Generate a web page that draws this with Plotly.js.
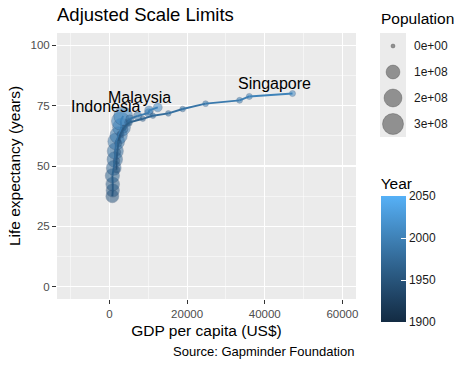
<!DOCTYPE html>
<html>
<head>
<meta charset="utf-8">
<script src="https://cdn.plot.ly/plotly-3.0.1.min.js"></script>
<style>html,body{margin:0;padding:0;background:#fff;}#chart{width:474px;height:366px;}</style>
</head>
<body>
<div id="chart"></div>
<script>
// ---- Data (Gapminder, 1952-2007) ----
const countries = ["Indonesia", "Malaysia", "Singapore"];
const years = [1952, 1957, 1962, 1967, 1972, 1977, 1982, 1987, 1992, 1997, 2002, 2007];
const gdpIndonesia = [749.68, 858.90, 849.29, 762.43, 1111.11, 1382.70, 1516.87, 1748.36, 2383.14, 3119.34, 2873.91, 3540.65];
const lifeIndonesia = [37.468, 39.918, 42.518, 45.964, 49.203, 52.702, 56.159, 60.137, 62.681, 66.041, 68.588, 70.65];
const popIndonesia = [82052000, 90124000, 99028000, 109343000, 121282000, 136725000, 153343000, 169276000, 184816000, 199278000, 211060000, 223547000];
const gdpMalaysia = [1831.13, 1810.07, 2036.88, 2277.74, 2849.09, 3827.92, 4920.36, 5249.80, 7277.91, 10132.91, 10206.98, 12451.66];
const lifeMalaysia = [48.463, 52.102, 55.737, 59.371, 63.01, 65.256, 68.0, 69.5, 70.693, 71.938, 73.044, 74.241];
const popMalaysia = [6748378, 7739235, 8906385, 10154878, 11441462, 12845381, 14441916, 16331785, 18319502, 20476091, 22662365, 24821286];
const gdpSingapore = [2315.14, 2843.10, 3674.74, 4977.42, 8597.76, 11210.09, 15169.16, 18861.53, 24769.89, 33519.48, 36023.11, 47143.18];
const lifeSingapore = [60.396, 63.179, 65.798, 67.946, 69.521, 70.795, 71.76, 73.56, 75.788, 77.158, 78.77, 79.972];
const popSingapore = [1127000, 1445929, 1750200, 1977600, 2152400, 2325300, 2651869, 2794552, 3235865, 3802309, 4197776, 4553009];

const sizeBreaks = [0, 1e8, 2e8, 3e8];
const sizeLabels = ["0e+00", "1e+08", "2e+08", "3e+08"];
const yearLimits = [1900, 2050];
const yearTicks = [1900, 1950, 2000, 2050];
const popLimits = [0, 3e8];
const xTickVals = [0, 20000, 40000, 60000];
const yTickVals = [0, 25, 50, 75, 100];

const gdp = [gdpIndonesia, gdpMalaysia, gdpSingapore];
const life = [lifeIndonesia, lifeMalaysia, lifeSingapore];
const pop = [popIndonesia, popMalaysia, popSingapore];

// ---- ggplot-like Lab gradient #132B43 -> #56B1F7 ----
function hex2rgb(h){return [1,3,5].map(i=>parseInt(h.substr(i,2),16));}
function srgb2lin(c){c/=255;return c<=0.04045?c/12.92:Math.pow((c+0.055)/1.055,2.4);}
function lin2srgb(c){c=c<=0.0031308?12.92*c:1.055*Math.pow(c,1/2.4)-0.055;return Math.max(0,Math.min(255,Math.round(c*255)));}
function rgb2lab(rgb){const [r,g,b]=rgb.map(srgb2lin);
  let X=(0.4124*r+0.3576*g+0.1805*b)/0.95047,Y=(0.2126*r+0.7152*g+0.0722*b),Z=(0.0193*r+0.1192*g+0.9505*b)/1.08883;
  const f=t=>t>0.008856?Math.cbrt(t):7.787*t+16/116;
  return [116*f(Y)-16,500*(f(X)-f(Y)),200*(f(Y)-f(Z))];}
function lab2rgb(lab){const fy=(lab[0]+16)/116,fx=fy+lab[1]/500,fz=fy-lab[2]/200;
  const fi=t=>t*t*t>0.008856?t*t*t:(t-16/116)/7.787;
  const X=fi(fx)*0.95047,Y=fi(fy),Z=fi(fz)*1.08883;
  const r=3.2406*X-1.5372*Y-0.4986*Z,g=-0.9689*X+1.8758*Y+0.0415*Z,b=0.0557*X-0.2040*Y+1.0570*Z;
  return [lin2srgb(r),lin2srgb(g),lin2srgb(b)];}
const labLo=rgb2lab(hex2rgb("#132B43")), labHi=rgb2lab(hex2rgb("#56B1F7"));
function colorFrac(t){const l=labLo.map((v,i)=>v+(labHi[i]-v)*t);const c=lab2rgb(l);return "rgb("+c.join(",")+")";}
function colorYear(y){return colorFrac((y-yearLimits[0])/(yearLimits[1]-yearLimits[0]));}
const colorscale=[];for(let i=0;i<=10;i++){colorscale.push([i/10,colorFrac(i/10)]);}

function sizeOf(p){return 4+17*Math.sqrt(Math.max(0,p-popLimits[0])/(popLimits[1]-popLimits[0]));}

const F="Liberation Sans, Arial, sans-serif";
const traces=[];
// points
countries.forEach((c,k)=>{
  traces.push({type:"scatter",mode:"markers",x:gdp[k],y:life[k],name:c,showlegend:false,hoverinfo:"skip",
    marker:{size:pop[k].map(sizeOf),color:years,colorscale:colorscale,cmin:yearLimits[0],cmax:yearLimits[1],
      opacity:0.55,line:{width:0.8,color:"rgba(45,70,105,0.6)"},
      showscale:k===0,
      colorbar: k===0 ? {x:0.7763,xanchor:"left",y:0.1917,yanchor:"middle",thickness:25,thicknessmode:"pixels",
        len:148,lenmode:"pixels",outlinewidth:0,xpad:0,ypad:0,
        tickvals:yearTicks,ticks:"inside",ticklen:5,tickcolor:"white",tickwidth:1,
        tickfont:{family:F,size:12,color:"#1A1A1A"},
        title:{text:"Year",side:"top",font:{family:F,size:15.5,color:"#000"}}} : undefined}
  });
});
// path segments coloured by starting year
countries.forEach((c,k)=>{
  for(let i=0;i<years.length-1;i++){
    traces.push({type:"scatter",mode:"lines",x:[gdp[k][i],gdp[k][i+1]],y:[life[k][i],life[k][i+1]],
      showlegend:false,hoverinfo:"skip",line:{color:colorYear(years[i]),width:1.9}});
  }
});
// size legend keys
traces.push({type:"scatter",mode:"markers",xaxis:"x2",yaxis:"y2",x:sizeBreaks.map(()=>0),y:sizeBreaks.map((v,i)=>i),
  showlegend:false,hoverinfo:"skip",
  marker:{size:sizeBreaks.map(sizeOf),color:"rgba(0,0,0,0.55)",line:{width:1,color:"rgba(0,0,0,0.35)"}}});

const annotations=[];
countries.forEach((c,k)=>{
  const n=gdp[k].length-1;
  annotations.push({x:gdp[k][n],y:life[k][n],xref:"x",yref:"y",text:c,showarrow:false,
    xanchor:"center",yanchor:"middle",xshift:-18,yshift:10,font:{family:F,size:16,color:"#000"}});
});
sizeLabels.forEach((t,i)=>{
  annotations.push({x:0.852,xref:"paper",xanchor:"left",y:i,yref:"y2",yanchor:"middle",text:t,showarrow:false,
    font:{family:F,size:12,color:"#1A1A1A"}});
});
annotations.push({x:0.772,xref:"paper",xanchor:"left",y:1.053,yref:"paper",yanchor:"middle",text:"Population",showarrow:false,
  font:{family:F,size:15.5,color:"#000"}});
annotations.push({x:0.717,xref:"paper",xanchor:"right",y:-0.199,yref:"paper",yanchor:"middle",text:"Source: Gapminder Foundation",showarrow:false,
  font:{family:F,size:13,color:"#000"}});

const layout={
  width:474,height:366,
  margin:{l:57,r:0,t:33,b:67,pad:0},
  paper_bgcolor:"#FFFFFF",plot_bgcolor:"#EBEBEB",
  font:{family:F},
  title:{text:"Adjusted Scale Limits",x:57/474,xanchor:"left",xref:"container",y:1-15/366,yref:"container",yanchor:"middle",
    font:{family:F,size:18.5,color:"#000"}},
  xaxis:{domain:[0,0.717],range:[-13500,63500],tickvals:xTickVals,tickformat:"d",showgrid:true,gridcolor:"#FFFFFF",gridwidth:1.1,
    minor:{dtick:10000,tick0:0,showgrid:true,gridcolor:"#FFFFFF",gridwidth:0.5},
    zeroline:false,ticks:"outside",ticklen:4,tickcolor:"#333333",tickwidth:1,
    tickfont:{family:F,size:11.5,color:"#4D4D4D"},
    title:{text:"GDP per capita (US$)",font:{family:F,size:15.5,color:"#000"},standoff:6}},
  yaxis:{domain:[0,1],range:[-5,105],tickvals:yTickVals,showgrid:true,gridcolor:"#FFFFFF",gridwidth:1.1,
    minor:{dtick:12.5,tick0:0,showgrid:true,gridcolor:"#FFFFFF",gridwidth:0.5},
    zeroline:false,ticks:"outside",ticklen:4,tickcolor:"#333333",tickwidth:1,
    tickfont:{family:F,size:11.5,color:"#4D4D4D"},
    title:{text:"Life expectancy (years)",font:{family:F,size:15.5,color:"#000"},standoff:6}},
  xaxis2:{domain:[0.7746,0.8369],range:[-1,1],visible:false,fixedrange:true,anchor:"y2"},
  yaxis2:{domain:[0.609,1],range:[3.5,-0.5],visible:false,fixedrange:true,anchor:"x2"},
  annotations:annotations,
  showlegend:false
};
Plotly.newPlot("chart",traces,layout,{displayModeBar:false,staticPlot:true});
</script>
</body>
</html>
